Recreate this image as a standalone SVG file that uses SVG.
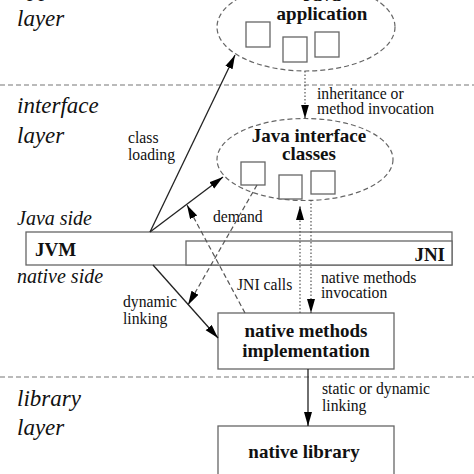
<svg xmlns="http://www.w3.org/2000/svg" width="474" height="474" viewBox="0 0 474 474">
<style>
text{font-family:'Liberation Serif','Times New Roman',serif;fill:#111}
.layer{font-size:23px;font-style:italic}
.side{font-size:20px;font-style:italic}
.lbl{font-size:15.7px}
.b{font-size:19px;font-weight:bold}
.sep{stroke:#777;stroke-width:1.2;stroke-dasharray:5 3;fill:none}
.box{fill:#fff;stroke:#666;stroke-width:1.3}
.ell{fill:none;stroke:#666;stroke-width:1.2;stroke-dasharray:5 3}
.sq{fill:#fff;stroke:#666;stroke-width:1.3}
.solid{stroke:#222;stroke-width:1.3;fill:none}
.dash{stroke:#555;stroke-width:1.2;stroke-dasharray:5 3;fill:none}
.dot{stroke:#555;stroke-width:1.2;stroke-dasharray:1.5 2;fill:none}
</style>
<defs>
<marker id="ah" markerUnits="userSpaceOnUse" markerWidth="16" markerHeight="10" refX="14" refY="4" orient="auto">
<path d="M0,0 L14,4 L0,8 z" fill="#000"/>
</marker>
</defs>
<rect width="474" height="474" fill="#fff"/>
<g id="layers">
<line class="sep" x1="0" y1="85" x2="474" y2="85"/>
<line class="sep" x1="0" y1="377" x2="474" y2="377"/>
<text class="layer" x="17" y="-4">application</text>
<text class="layer" x="17" y="26">layer</text>
<text class="layer" x="17" y="113">interface</text>
<text class="layer" x="17" y="143">layer</text>
<text class="layer" x="17" y="406">library</text>
<text class="layer" x="17" y="435">layer</text>
<text class="side" x="17" y="225">Java side</text>
<text class="side" x="17" y="283">native side</text>
</g>
<g id="java-application">
<ellipse class="ell" cx="306" cy="27" rx="89" ry="44"/>
<text class="b" x="322" y="1" text-anchor="middle">Java</text>
<text class="b" x="322" y="20" text-anchor="middle">application</text>
<rect class="sq" x="246" y="22" width="24" height="25"/>
<rect class="sq" x="283" y="37" width="24" height="25"/>
<rect class="sq" x="315" y="32" width="24" height="25"/>
</g>
<g id="java-interface-classes">
<ellipse class="ell" cx="305" cy="159.5" rx="88" ry="41"/>
<text class="b" x="309" y="142" text-anchor="middle">Java interface</text>
<text class="b" x="309" y="160" text-anchor="middle">classes</text>
<rect class="sq" x="241" y="162" width="24" height="23"/>
<rect class="sq" x="279" y="175" width="23" height="24"/>
<rect class="sq" x="311" y="171" width="24" height="23"/>
</g>
<g id="jvm">
<rect class="box" x="26" y="232" width="426" height="33"/>
<text class="b" x="35" y="256">JVM</text>
</g>
<g id="jni">
<rect class="box" x="186" y="241" width="266" height="24"/>
<text class="b" x="445" y="261" text-anchor="end">JNI</text>
</g>
<g id="native-methods-implementation">
<rect class="box" x="218" y="313" width="176" height="56"/>
<text class="b" x="306" y="337" text-anchor="middle">native methods</text>
<text class="b" x="306" y="357" text-anchor="middle">implementation</text>
</g>
<g id="native-library">
<rect class="box" x="218" y="426" width="176" height="60"/>
<text class="b" x="304" y="458" text-anchor="middle">native library</text>
</g>
<g id="connectors">
<line class="solid" x1="150" y1="232" x2="235" y2="55" marker-end="url(#ah)"/>
<line class="solid" x1="150" y1="232" x2="223" y2="177" marker-end="url(#ah)"/>
<line class="dash" x1="245" y1="313" x2="187" y2="205" marker-end="url(#ah)"/>
<line class="dash" x1="257" y1="185" x2="188" y2="305" marker-end="url(#ah)"/>
<line class="solid" x1="153" y1="265" x2="218" y2="338" marker-end="url(#ah)"/>
<line class="dot" x1="305" y1="71" x2="305" y2="118.5" marker-end="url(#ah)"/>
<line class="dot" x1="300" y1="313" x2="300" y2="206" marker-end="url(#ah)"/>
<line class="dot" x1="311" y1="200" x2="311" y2="313" marker-end="url(#ah)"/>
<line class="solid" x1="308" y1="369" x2="308" y2="426" marker-end="url(#ah)"/>
<text class="lbl" x="128" y="143">class</text>
<text class="lbl" x="128" y="160">loading</text>
<text class="lbl" x="213" y="222">demand</text>
<text class="lbl" x="237" y="290">JNI calls</text>
<text class="lbl" x="123" y="307">dynamic</text>
<text class="lbl" x="123" y="324">linking</text>
<text class="lbl" x="317" y="99">inheritance or</text>
<text class="lbl" x="317" y="114">method invocation</text>
<text class="lbl" x="321" y="283">native methods</text>
<text class="lbl" x="321" y="298">invocation</text>
<text class="lbl" x="322" y="394">static or dynamic</text>
<text class="lbl" x="322" y="411">linking</text>
</g>
</svg>
